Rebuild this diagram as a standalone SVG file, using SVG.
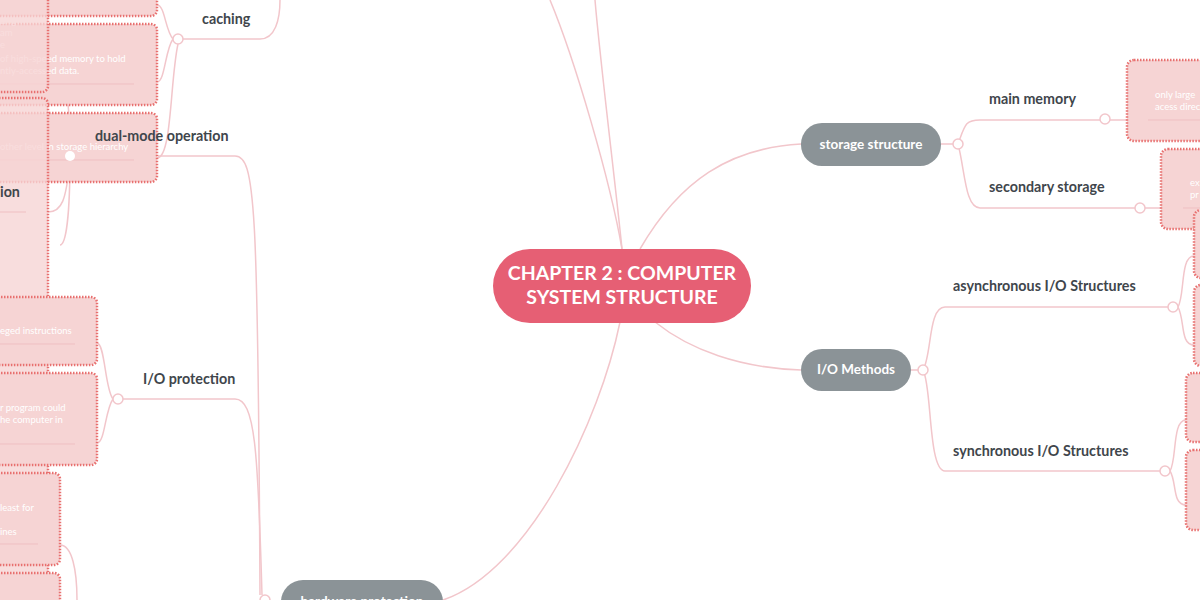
<svg xmlns="http://www.w3.org/2000/svg" width="1200" height="600" viewBox="0 0 1200 600">
<style>
.c{fill:none;stroke:#f2c6cb;stroke-width:1.5}
.b{fill:#f6d4d4;stroke:#e8706f;stroke-width:2.5;stroke-dasharray:1.5 1.5}
.bt{font-family:Lato,'Liberation Sans',sans-serif;font-size:9.5px;fill:#fff}
.ul{stroke:#efbfc2;stroke-width:1}
.dot{fill:#fff;stroke:#f2c6cb;stroke-width:1.5}
.lbl{font-family:Lato,'Liberation Sans',sans-serif;font-size:14.3px;font-weight:bold;fill:#3f464c}
.g{fill:#8b9397}
.gt{font-family:Lato,'Liberation Sans',sans-serif;font-size:13.5px;font-weight:bold;fill:#fff;text-anchor:middle}
</style>
<rect width="1200" height="600" fill="#fff"/>
<g id="connectors">
<path class="c" d="M550,0 C575,60 610,180 622,249"/>
<path class="c" d="M595,0 C600,60 615,180 622,249"/>
<path class="c" d="M640,249 C680,180 730,148 801,144"/>
<path class="c" d="M655,322 C690,350 740,368 801,370"/>
<path class="c" d="M620,322 C600,420 530,570 443,600"/>
<path class="c" d="M941,144 L958,144"/>
<path class="c" d="M958,144 C965,125 965,120 980,120 L1105,120 M1110,120 L1127,120"/>
<path class="c" d="M958,144 C965,170 965,208 980,208 L1140,208 M1145,208 L1161,208"/>
<path class="c" d="M911,370 L923,370"/>
<path class="c" d="M923,370 C932,355 928,307 945,307 L1173,307"/>
<path class="c" d="M923,370 C932,385 928,471 945,471 L1165,471"/>
<path class="c" d="M1178,307 C1185,295 1180,256 1194,256 M1178,307 C1185,320 1180,345 1194,345"/>
<path class="c" d="M1170,471 C1177,460 1172,420 1186,420 M1170,471 C1177,482 1172,505 1186,505"/>
<path class="c" d="M183,39 L260,39 C275,39 280,20 280,0"/>
<path class="c" d="M173,39 C165,30 165,5 157,5 M173,39 C165,50 165,82 157,82 M178,44 C170,80 172,158 157,158"/>
<path class="c" d="M158,156 L235,156 C255,156 258,200 260,595"/>
<path class="c" d="M123,399 L235,399 C255,399 258,450 262,595"/>
<path class="c" d="M113,399 C105,390 105,343 97,343 M113,399 C105,410 105,443 97,443"/>
<path class="c" d="M60,245 C66,245 70,215 70,156 C70,100 65,75 60,72 M48,212 C62,212 66,200 70,161"/>
<path class="c" d="M60,545 C72,545 77,570 77,600"/>
</g>
<g id="left-boxes">
<rect class="b" x="-20" y="-20" width="177" height="36" rx="6"/>
<rect class="b" x="-20" y="24" width="177" height="81" rx="6"/>
<text class="bt" x="0" y="24">ting</text>
<text class="bt" x="0" y="36">am</text>
<text class="bt" x="0" y="48">e</text>
<text class="bt" x="0" y="62">of high-speed memory to hold</text>
<text class="bt" x="0" y="74">ntly-accessed data.</text>
<line class="ul" x1="0" y1="84" x2="134" y2="84"/>
<rect class="b" x="-20" y="113" width="177" height="69" rx="6"/>
<text class="bt" x="0" y="150">other level in storage hierarchy</text>
<line class="ul" x1="0" y1="160" x2="134" y2="160"/>
<rect class="b" x="-40" y="-20" width="88" height="112" rx="6" fill-opacity="0.8"/>
<rect class="b" x="-40" y="98" width="88" height="527" rx="6" fill-opacity="0.8"/>
<text class="lbl" x="0" y="197">ion</text>
<line class="ul" x1="0" y1="212" x2="26" y2="212"/>
<circle cx="70" cy="156" r="5" fill="#fff"/>
<rect class="b" x="-20" y="297" width="117" height="68" rx="6"/>
<text class="bt" x="0" y="334">eged instructions</text>
<line class="ul" x1="0" y1="344" x2="75" y2="344"/>
<rect class="b" x="-20" y="373" width="117" height="92" rx="6"/>
<text class="bt" x="0" y="411">r program could</text>
<text class="bt" x="0" y="423">he computer in</text>
<line class="ul" x1="0" y1="444" x2="75" y2="444"/>
<rect class="b" x="-20" y="473" width="80" height="92" rx="6"/>
<text class="bt" x="0" y="511">least for</text>
<text class="bt" x="0" y="535">ines</text>
<line class="ul" x1="0" y1="544" x2="38" y2="544"/>
<rect class="b" x="-20" y="573" width="80" height="60" rx="6"/>
</g>
<g id="caching"><text class="lbl" x="202" y="24">caching</text><circle class="dot" cx="178" cy="39" r="5"/></g>
<g id="dual-mode"><text class="lbl" x="95" y="141">dual-mode operation</text></g>
<g id="io-protection"><text class="lbl" x="143" y="384">I/O protection</text><circle class="dot" cx="118" cy="399" r="5"/></g>
<g id="center">
<rect x="493" y="249" width="258" height="74" rx="37" fill="#e65f74"/>
<text x="622" y="280" font-family="Lato,'Liberation Sans',sans-serif" font-size="19.5" font-weight="bold" fill="#fff" text-anchor="middle">CHAPTER 2 : COMPUTER</text>
<text x="622" y="304" font-family="Lato,'Liberation Sans',sans-serif" font-size="19.5" font-weight="bold" fill="#fff" text-anchor="middle">SYSTEM STRUCTURE</text>
</g>
<g id="hardware-protection">
<rect class="g" x="281" y="580" width="162" height="46" rx="22"/>
<text class="gt" x="362" y="606">hardware protection</text>
<circle class="dot" cx="265" cy="600" r="5"/>
</g>
<g id="storage-structure">
<rect class="g" x="801" y="123" width="140" height="43" rx="21"/>
<text class="gt" x="871" y="149">storage structure</text>
<circle class="dot" cx="958" cy="144" r="5"/>
</g>
<g id="main-memory">
<text class="lbl" x="989" y="104">main memory</text>
<circle class="dot" cx="1105" cy="119" r="5"/>
<rect class="b" x="1127" y="60" width="100" height="81" rx="7"/>
<text class="bt" x="1155" y="98">only large</text>
<text class="bt" x="1155" y="110">acess direc</text>
<line class="ul" x1="1148" y1="120" x2="1200" y2="120"/>
</g>
<g id="secondary-storage">
<text class="lbl" x="989" y="192">secondary storage</text>
<circle class="dot" cx="1140" cy="208" r="5"/>
<rect class="b" x="1161" y="149" width="60" height="80" rx="7"/>
<text class="bt" x="1190" y="186">ex</text>
<text class="bt" x="1190" y="198">pr</text>
<line class="ul" x1="1183" y1="208" x2="1200" y2="208"/>
</g>
<g id="io-methods">
<rect class="g" x="801" y="349" width="110" height="42" rx="21"/>
<text class="gt" x="856" y="374">I/O Methods</text>
<circle class="dot" cx="923" cy="370" r="5"/>
</g>
<g id="async">
<text class="lbl" x="953" y="291">asynchronous I/O Structures</text>
<circle class="dot" cx="1173" cy="307" r="5"/>
<rect class="b" x="1194" y="210" width="30" height="68" rx="7"/>
<rect class="b" x="1194" y="285" width="30" height="81" rx="7"/>
</g>
<g id="sync">
<text class="lbl" x="953" y="456">synchronous I/O Structures</text>
<circle class="dot" cx="1165" cy="471" r="5"/>
<rect class="b" x="1186" y="373" width="30" height="69" rx="7"/>
<rect class="b" x="1186" y="450" width="30" height="80" rx="7"/>
</g>
</svg>
